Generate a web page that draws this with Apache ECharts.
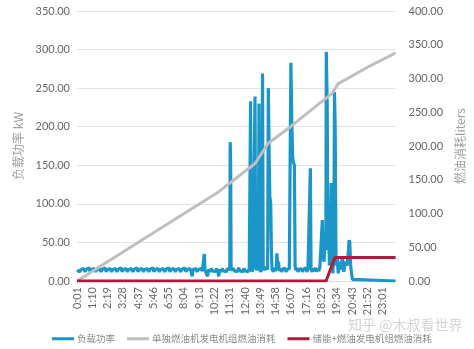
<!DOCTYPE html>
<html><head><meta charset="utf-8">
<script src="https://cdn.jsdelivr.net/npm/echarts@6/dist/echarts.min.js"></script>
<style>html,body{margin:0;padding:0;background:#fff}#c{width:474px;height:349px}</style>
</head><body><div id="c"></div>
<script>
// x positions are minutes after 0:01
const timeLabels = ['0:01','1:10','2:19','3:28','4:37','5:46','6:55','8:04','9:13','10:22','11:31','12:40','13:49','14:58','16:07','17:16','18:25','19:34','20:43','21:52','23:01'];
const seriesNames = ['负载功率','单独燃油机发电机组燃油消耗','储能+燃油发电机组燃油消耗'];
// load power kW : [minute, value]
const loadPower = [
[0,14],[6,16],[12,12],[18,15],[24,13],[30,16],[36,12],[42,15],[48,14],[54,17],[60,12],[66,15],[72,13],[78,16],[84,12],[90,15],[96,14],[102,16],[108,12],[114,15],[120,13],[126,17],[132,12],[138,15],[144,14],[150,16],[156,12],[162,15],[168,13],[174,16],[180,12],[186,15],[192,14],[198,17],[204,12],[210,15],[216,13],[222,16],[228,12],[234,15],[240,14],[246,16],[252,12],[258,15],[264,13],[270,17],[276,12],[282,15],[288,14],[294,16],[300,12],[306,15],[312,13],[318,16],[324,12],[330,15],[336,14],[342,17],[348,12],[354,15],[360,13],[366,16],[372,12],[378,15],[384,14],[390,16],[396,12],[402,15],[408,13],[414,17],[420,12],[426,15],[432,14],[438,16],[444,12],[450,15],[456,13],[462,16],[468,12],[474,15],[480,14],[486,17],[492,12],[498,15],[504,13],[510,16],[516,12],[520,6],[524,15],[530,13],[536,16],[542,12],[548,15],[554,14],[560,16],[566,13],
[572,14],[575,35],[578,14],
[584,16],[590,6],[594,15],[600,12],[606,16],[612,13],[618,15],[624,12],[630,16],[636,13],[640,6],[644,15],[650,12],[656,16],[662,13],[668,15],[674,12],[680,16],[686,14],
[690,15],[692,180],[694,150],[696,14],
[700,12],[706,16],[712,13],[718,15],[724,12],[730,17],[736,13],[742,15],[748,12],[754,16],[760,13],[766,15],[772,12],[778,16],
[781,15],[784,233],[787,18],[790,12],[795,16],[801,15],[804,239],[807,20],[811,14],[816,18],[819,15],[822,230],[825,15],[830,12],[835,16],[838,269],[841,20],[846,14],[852,18],[858,16],[861,15],[864,250],[868,160],[871,110],[875,100],[878,40],
[881,15],[886,12],[891,17],[896,13],[900,16],[903,36],[906,20],[910,25],[914,13],[919,16],[924,12],[929,15],[934,13],[939,17],[944,12],[949,15],[954,13],[959,16],
[962,15],[966,283],[970,210],[974,160],[978,153],[982,150],[985,20],
[988,14],[993,17],[998,12],[1003,15],[1008,13],[1013,16],[1018,12],[1023,15],[1028,13],[1033,17],[1038,12],[1043,15],[1048,13],
[1051,15],[1054,146],[1057,15],[1062,12],[1067,16],[1072,13],[1077,17],[1082,12],[1087,16],[1092,13],[1097,18],
[1104,20],[1108,79],[1112,30],[1116,25],[1120,60],[1124,40],[1126,297],[1130,230],[1133,40],[1137,60],[1140,20],[1144,45],[1148,127],[1152,30],[1156,10],[1160,50],[1163,245],[1166,200],[1170,20],[1175,30],[1180,10],[1186,25],[1192,15],[1198,30],[1205,12],[1212,25],[1220,20],[1226,40],[1229,53],[1232,50],[1236,20],[1240,10],[1244,2],[1248,0],[1439,0]
];
// fuel use liters, generator only
const fuelGenOnly = [[0,0],[324,67],[639,132],[804,174],[864,204],[966,229],[999,238],[1125,271],[1152,278],[1179,292],[1238,303],[1314,317],[1439,338]];
// fuel use liters, storage + generator
const fuelHybrid = [[0,0],[1125,0],[1165,35],[1439,35]];

const chart = echarts.init(document.getElementById('c'), null, {renderer:'canvas'});
const labelFont = 'Lato, "Noto Sans CJK SC", sans-serif';
chart.setOption({
  animation:false,
  backgroundColor:'#fff',
  grid:{left:77,right:74,top:11,bottom:68},
  legend:{
    left:47, top:329, itemWidth:22, itemHeight:3, itemGap:12, icon:'rect',
    textStyle:{fontSize:9.5, color:'#8a8a8a', fontFamily:'"Noto Sans CJK SC", sans-serif', padding:[0,0,0,-2]},
    data:seriesNames
  },
  xAxis:{
    type:'value', min:0, max:1439, interval:69,
    axisLine:{show:true, lineStyle:{color:'#d9d9d9'}},
    axisTick:{show:false}, splitLine:{show:false},
    axisLabel:{rotate:90, margin:6, fontSize:11, color:'#666', fontFamily:labelFont, showMaxLabel:false,
      formatter:v => timeLabels[Math.round(v/69)] || ''}
  },
  yAxis:[{
    type:'value', min:0, max:350, interval:50,
    name:'负载功率 kW', nameLocation:'middle', nameGap:52, nameRotate:90,
    nameTextStyle:{fontSize:12, color:'#a0a0a0', fontFamily:'"Noto Sans CJK SC", serif'},
    axisLine:{show:false}, axisTick:{show:false},
    splitLine:{lineStyle:{color:'#e3e3e3', width:1}},
    axisLabel:{fontSize:11, color:'#666', fontFamily:labelFont, margin:7, formatter:v=>v.toFixed(2)}
  },{
    type:'value', min:0, max:400, interval:50,
    name:'燃油消耗liters', nameLocation:'middle', nameGap:52, nameRotate:90,
    nameTextStyle:{fontSize:12, color:'#a0a0a0', fontFamily:'"Noto Sans CJK SC", serif'},
    axisLine:{show:false}, axisTick:{show:false}, splitLine:{show:false},
    axisLabel:{fontSize:11, color:'#666', fontFamily:labelFont, margin:13, formatter:v=>v.toFixed(2)}
  }],
  series:[
    {name:seriesNames[0], type:'line', yAxisIndex:0, data:loadPower, showSymbol:false, symbol:'none',
     lineStyle:{color:'#1a96c8', width:3.2}, itemStyle:{color:'#1a96c8'}},
    {name:seriesNames[1], type:'line', yAxisIndex:1, data:fuelGenOnly, showSymbol:false, symbol:'none',
     lineStyle:{color:'#bfbfbf', width:3}, itemStyle:{color:'#bfbfbf'}},
    {name:seriesNames[2], type:'line', yAxisIndex:1, data:fuelHybrid, showSymbol:false, symbol:'none',
     lineStyle:{color:'#ae1a3c', width:3}, itemStyle:{color:'#ae1a3c'}}
  ],
  graphic:[{type:'text', left:348, top:318, style:{text:'知乎 @木叔看世界', fontSize:14, fill:'#d4d4d4', fontFamily:'"Noto Sans CJK SC", sans-serif'}}]
});
</script></body></html>
